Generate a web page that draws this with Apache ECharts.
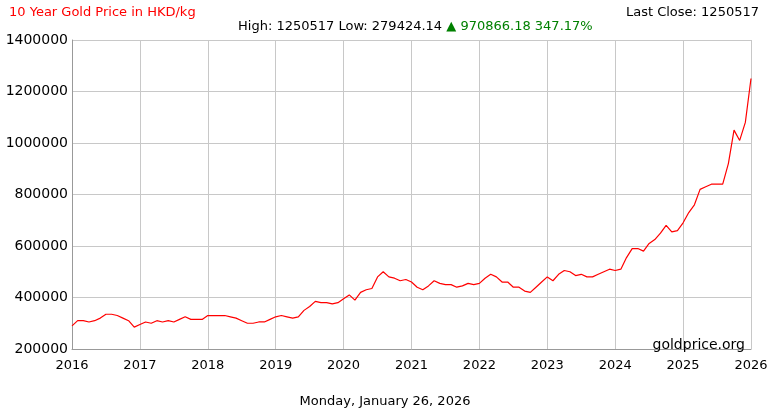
<!DOCTYPE html>
<html><head><meta charset="utf-8">
<script src="https://cdn.jsdelivr.net/npm/echarts@6/dist/echarts.min.js"></script>
<style>html,body{margin:0;padding:0;background:#fff}#c{width:770px;height:410px}</style>
</head><body><div id="c"></div>
<script>
const years = [2016,2017,2018,2019,2020,2021,2022,2023,2024,2025];
const v2016 = [290000,310000,310000,305000,310000,320000,335000,335000,330000,320000,310000,285000];
const v2017 = [295000,305000,300000,310000,305000,310000,305000,315000,325000,315000,315000,315000];
const v2018 = [330000,330000,330000,330000,325000,320000,310000,300000,300000,305000,305000,315000];
const v2019 = [325000,330000,325000,320000,325000,350000,365000,385000,380000,380000,375000,380000];
const v2020 = [395000,410000,390000,420000,430000,435000,480000,500000,480000,475000,465000,470000];
const v2021 = [460000,440000,430000,445000,465000,455000,450000,450000,440000,445000,455000,450000];
const v2022 = [455000,475000,490000,480000,460000,460000,440000,440000,425000,420000,440000,460000];
const v2023 = [480000,465000,490000,505000,500000,485000,490000,480000,480000,490000,500000,510000];
const v2024 = [505000,510000,555000,590000,590000,580000,610000,625000,650000,680000,655000,660000];
const v2025 = [690000,730000,760000,820000,830000,840000,840000,840000,920000,1050000,1010000,1080000];
const lastPoint = [2026.0, 1250517];
const yTicks = [200000,400000,600000,800000,1000000,1200000,1400000];

const monthly = [v2016,v2017,v2018,v2019,v2020,v2021,v2022,v2023,v2024,v2025];
const data = [];
monthly.forEach((arr,i)=>arr.forEach((v,m)=>data.push([years[i]+m/12, v])));
data.push(lastPoint);

const chart = echarts.init(document.getElementById('c'));
const F = 'DejaVu Sans';
chart.setOption({
  animation:false,
  textStyle:{fontFamily:F},
  title:[
    {text:'10 Year Gold Price in HKD/kg',left:4,top:1,textStyle:{color:'#ff0000',fontSize:13,fontWeight:'normal',fontFamily:F}},
    {text:'Last Close: 1250517',right:6,top:1,textStyle:{color:'#000',fontSize:13,fontWeight:'normal',fontFamily:F}},
    {text:'{a|High: 1250517 Low: 279424.14 }{b|▲ 970866.18 347.17%}',left:233,top:15,
     textStyle:{fontWeight:'normal',rich:{a:{color:'#000',fontSize:13,fontWeight:'normal',fontFamily:F},b:{color:'#008000',fontSize:13,fontWeight:'normal',fontFamily:F}}}},
    {text:'Monday, January 26, 2026',left:'center',top:390,textStyle:{color:'#000',fontSize:13,fontWeight:'normal',fontFamily:F}},
    {text:'goldprice.org',right:20,top:333,textStyle:{color:'#000',fontSize:14,fontWeight:'normal',fontFamily:F}}
  ],
  grid:{left:72,right:19,top:40,bottom:61,containLabel:false,outerBoundsMode:'none'},
  xAxis:{type:'value',min:2016,max:2026,interval:1,
    axisLine:{lineStyle:{color:'#999'}},axisTick:{show:false},
    axisLabel:{color:'#000',fontSize:13,formatter:v=>String(v),margin:10},
    splitLine:{show:true,lineStyle:{color:'#c8c8c8'}}},
  yAxis:{type:'value',min:yTicks[0],max:yTicks[yTicks.length-1],interval:200000,
    axisLine:{show:true,lineStyle:{color:'#999'}},axisTick:{show:false},
    axisLabel:{color:'#000',fontSize:14,margin:4,formatter:v=>String(v)},
    splitLine:{lineStyle:{color:'#c8c8c8'}}},
  series:[{type:'line',data:data,showSymbol:false,lineStyle:{color:'#ff0000',width:1.2}}]
});
</script></body></html>
